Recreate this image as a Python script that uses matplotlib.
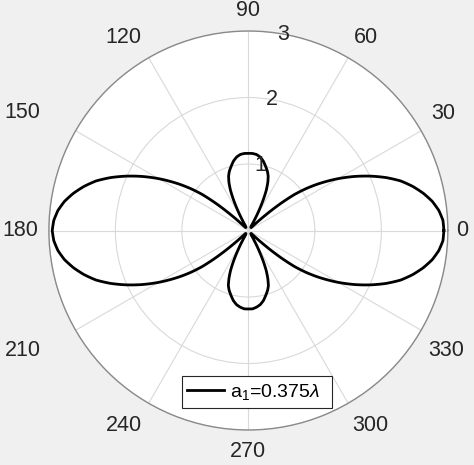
import numpy as np
import matplotlib
matplotlib.use("Agg")
import matplotlib.pyplot as plt

plt.rcParams['font.family'] = ['Liberation Sans', 'DejaVu Sans']
plt.rcParams['mathtext.fontset'] = 'custom'
plt.rcParams['mathtext.rm'] = 'Liberation Sans'
plt.rcParams['mathtext.it'] = 'Liberation Sans:italic'
plt.rcParams['path.simplify'] = False   # keep every read point of the curve

# pattern, one quadrant at a time (angle in degrees, radius)
theta_q1 = [0, 3, 6, 9, 12, 15, 18, 21, 24, 27, 30, 32, 34, 36, 38, 40, 42, 44, 46, 50,
            54, 58, 60, 62, 64, 66, 68, 70, 72, 75, 78, 81, 84, 87, 90]
r_q1 = [2.94, 2.93, 2.88, 2.80, 2.69, 2.56, 2.41, 2.22, 2.01, 1.79, 1.56, 1.40, 1.24, 1.07, 0.88, 0.62, 0.34, 0.12, 0.06, 0.06,
        0.06, 0.08, 0.18, 0.33, 0.50, 0.66, 0.78, 0.87, 0.93, 1.00, 1.07, 1.12, 1.15, 1.16, 1.16]
theta_q2 = [93, 96, 99, 102, 105, 108, 110, 112, 114, 116, 118, 120, 122, 126, 130, 134, 136, 138, 140, 142,
            144, 146, 148, 150, 153, 156, 159, 162, 165, 168, 171, 174, 177, 180]
r_q2 = [1.16, 1.15, 1.12, 1.07, 1.00, 0.93, 0.87, 0.78, 0.66, 0.50, 0.33, 0.18, 0.08, 0.06, 0.06, 0.06, 0.12, 0.34, 0.62, 0.88,
        1.07, 1.24, 1.40, 1.56, 1.79, 2.01, 2.22, 2.41, 2.56, 2.69, 2.80, 2.88, 2.93, 2.95]
theta_q3 = [183, 186, 189, 192, 195, 198, 201, 204, 207, 210, 212, 214, 216, 218, 220, 222, 224, 226, 230, 234,
            238, 240, 242, 244, 246, 248, 250, 252, 255, 258, 261, 264, 267, 270]
r_q3 = [2.93, 2.88, 2.80, 2.69, 2.56, 2.41, 2.22, 2.01, 1.79, 1.56, 1.40, 1.24, 1.07, 0.88, 0.62, 0.34, 0.12, 0.06, 0.06, 0.06,
        0.08, 0.18, 0.33, 0.50, 0.66, 0.78, 0.88, 0.94, 1.01, 1.08, 1.13, 1.16, 1.18, 1.18]
theta_q4 = [273, 276, 279, 282, 285, 288, 290, 292, 294, 296, 298, 300, 302, 306, 310, 314, 316, 318, 320, 322,
            324, 326, 328, 330, 333, 336, 339, 342, 345, 348, 351, 354, 357, 360]
r_q4 = [1.18, 1.16, 1.13, 1.08, 1.01, 0.94, 0.88, 0.78, 0.66, 0.50, 0.33, 0.18, 0.08, 0.06, 0.06, 0.06, 0.12, 0.34, 0.62, 0.88,
        1.07, 1.24, 1.40, 1.56, 1.79, 2.01, 2.22, 2.41, 2.56, 2.69, 2.80, 2.88, 2.93, 2.94]
label = r"a$_1$=0.375$\lambda$  "
r_ticks = [1, 2, 3]
theta_ticks = list(range(0, 360, 30))

theta_deg = theta_q1 + theta_q2 + theta_q3 + theta_q4
radius = r_q1 + r_q2 + r_q3 + r_q4
assert len(theta_deg) == len(radius)

txt = '#262626'
fig = plt.figure(figsize=(4.74, 4.65), dpi=100, facecolor='#f0f0f0')
ax = fig.add_axes([0.103, 0.0753, 0.842, 0.858], projection='polar')
ax.set_facecolor('white')

line, = ax.plot(np.deg2rad(theta_deg), radius, color='black', lw=2, label=label)
line.get_path()._interpolation_steps = 8   # draw segments as curves in polar space

ax.set_rlim(0, 3)
ax.set_yticks(r_ticks)
ax.set_yticklabels([])
ax.set_xticks(np.deg2rad(theta_ticks))
ax.set_xticklabels([])
ax.grid(True, color='#d9d9d9', lw=0.8)
ax.spines['polar'].set_color('#8a8a8a')
ax.spines['polar'].set_linewidth(1.0)

# angle labels: centre offset (px) from the point on the outer ring, as MATLAB lays them out
label_offset = [(14, 0), (22, 17), (18, 20), (0, 21), (-25, 20), (-53, 18),
                (-29, 0), (-53, -20), (-25, -22), (0, -22), (22, -22), (25, -20)]
for t, off in zip(theta_ticks, label_offset):
    ax.annotate(str(t), xy=(np.deg2rad(t), 3), xytext=off, textcoords='offset pixels',
                ha='center', va='center', fontsize=15.5, color=txt, annotation_clip=False)

for rt in r_ticks:
    ax.text(np.deg2rad(80), rt, str(rt), ha='center', va='center', fontsize=15.5, color=txt)

leg = ax.legend(loc='lower center', bbox_to_anchor=(0.542, 0.1226), bbox_transform=fig.transFigure,
                fontsize=14, frameon=True, fancybox=False, handlelength=1.9, borderpad=0.3,
                handletextpad=0.3, borderaxespad=0)
leg.get_frame().set_edgecolor(txt)
leg.get_frame().set_linewidth(0.8)
leg.get_frame().set_alpha(1)

fig.savefig("out.png", dpi=100, facecolor=fig.get_facecolor())
